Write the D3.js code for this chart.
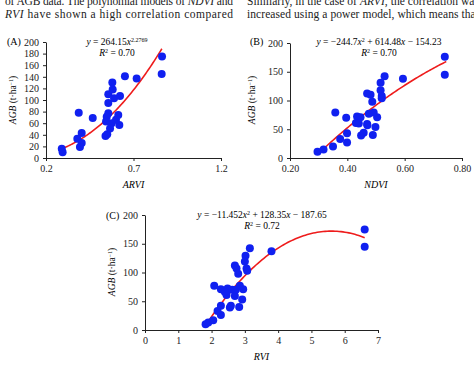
<!DOCTYPE html>
<html>
<head>
<meta charset="utf-8">
<script src="https://cdn.jsdelivr.net/npm/d3@7"></script>
<style>
  body { margin: 0; background: #fff; }
  text { font-family: "Liberation Serif", "DejaVu Serif", serif; }
</style>
</head>
<body>
<div id="chart"></div>
<script>
// values
var arviX = [0.29, 0.295, 0.387, 0.404, 0.379, 0.404, 0.394, 0.467, 0.54, 0.55, 0.556, 0.547, 0.543, 0.575,
             0.566, 0.613, 0.619, 0.60, 0.556, 0.556, 0.581, 0.579, 0.589, 0.623, 0.651, 0.718, 0.861, 0.863];
var arviY = [16, 10, 78, 43, 33, 26, 19, 69, 38, 41, 77, 71, 63, 60,
             51, 74, 57, 66, 95, 110, 118, 130, 103, 107, 141, 137, 145, 175];

var ndviX = [0.296, 0.317, 0.35, 0.358, 0.375, 0.396, 0.399, 0.399, 0.434, 0.43, 0.446, 0.44, 0.448, 0.457, 0.469, 0.47,
             0.469, 0.481, 0.487, 0.489, 0.498, 0.504, 0.492, 0.475, 0.516, 0.516, 0.52, 0.52, 0.53, 0.594, 0.74, 0.74];
var ndviY = [11, 15, 20, 79, 33, 70, 43, 27, 72, 61, 71, 60, 39, 44, 59, 57,
             112, 110, 98, 40, 54, 71, 79, 77, 118, 131, 108, 104, 142, 138, 176, 145];

var rviX = [1.82, 1.9, 2.05, 2.08, 2.28, 2.18, 2.28, 2.28, 2.48, 2.45, 2.4, 2.58, 2.55, 2.62, 2.7, 2.73,
            2.83, 2.92, 2.95, 2.85, 2.7, 2.75, 2.8, 3.0, 3.02, 3.05, 3.07, 3.15, 3.8, 6.6, 6.6];
var rviY = [10, 13, 17, 77, 26, 33, 42, 71, 72, 61, 66, 42, 39, 70, 59, 70,
            40, 53, 71, 77, 112, 107, 98, 119, 129, 107, 103, 142, 137, 175, 145];

// fitted trend lines as printed on the chart
var arviFit = [264.15, 2.2769];              // a * x^b
var ndviFit = [-244.7, 614.48, -154.23];     // a x^2 + b x + c
var rviFit = [-11.452, 128.35, -187.65];

var arviTicks = [0.2, 0.7, 1.2];
var ndviTicks = [0.2, 0.4, 0.6, 0.8];
var rviTicks = [0, 1, 2, 3, 4, 5, 6, 7];

var W = 474, H = 365;
var blue = "#1020f0", red = "#ee1c1c";

var svg = d3.select("#chart").append("svg")
  .attr("width", W).attr("height", H);

// body text around the figure
function bodyLine(x, y, len, parts) {
  var t = svg.append("text").attr("x", x).attr("y", y)
    .style("font-size", "11.5px").attr("fill", "#222");
  if (len) t.attr("textLength", len).attr("lengthAdjust", "spacing");
  parts.forEach(function(p) {
    t.append("tspan").text(p[0]).style("font-style", p[1] ? "italic" : "normal");
  });
}
bodyLine(5, 5, 228, [["of ", 0], ["AGB", 0], [" data. The polynomial models of ", 0], ["NDVI", 1], [" and", 0]]);
bodyLine(5, 18, 228, [["RVI", 1], [" have shown a high correlation compared", 0]]);
bodyLine(247, 5, 232, [["Similarly, in the case of ", 0], ["ARVI", 1], [", the correlation was", 0]]);
bodyLine(247, 18, 232, [["increased using a power model, which means that", 0]]);

function panel(cfg) {
  var g = svg.append("g");
  var x = d3.scaleLinear().domain(cfg.xDomain).range(cfg.xRange);
  var y = d3.scaleLinear().domain([0, 200]).range(cfg.yRange);

  var xa = g.append("g")
    .attr("transform", "translate(0," + cfg.yRange[0] + ")")
    .call(d3.axisBottom(x).tickValues(cfg.xTicks).tickFormat(d3.format(cfg.xFmt))
      .tickSize(3).tickPadding(4).tickSizeOuter(0));
  var ya = g.append("g")
    .attr("transform", "translate(" + cfg.xRange[0] + ",0)")
    .call(d3.axisLeft(y).tickValues(d3.range(0, 201, cfg.yStep))
      .tickSize(3).tickPadding(4).tickSizeOuter(0));
  [xa, ya].forEach(function(a) {
    a.selectAll("text").style("font-size", "10px").style("font-family", "Liberation Serif").attr("fill", "#222");
    a.selectAll("line, path").attr("stroke", "#222");
  });

  // trend line
  var xs = d3.range(cfg.fitFrom, cfg.fitTo + 1e-9, (cfg.fitTo - cfg.fitFrom) / 80);
  g.append("path")
    .datum(xs)
    .attr("fill", "none").attr("stroke", red).attr("stroke-width", 1.6)
    .attr("d", d3.line().x(function(d) { return x(d); }).y(function(d) { return y(cfg.fit(d)); }));

  // points
  g.selectAll("circle.pt")
    .data(cfg.xs)
    .enter().append("circle")
      .attr("class", "pt")
      .attr("cx", function(d) { return x(d); })
      .attr("cy", function(d, i) { return y(cfg.ys[i]); })
      .attr("r", 4)
      .attr("fill", blue);

  // panel letter
  g.append("text").attr("x", cfg.label[0]).attr("y", cfg.label[1])
    .style("font-size", "10px").text(cfg.name);

  // equation and R2
  var cx = cfg.eqPos[0];
  var eq = g.append("text").attr("x", cx).attr("y", cfg.eqPos[1])
    .attr("text-anchor", "middle").style("font-size", "9.5px");
  cfg.eq.forEach(function(p) {
    var s = eq.append("tspan").text(p[0]);
    if (p[1] == 1) s.style("font-style", "italic");
    if (p[1] == 2) s.attr("baseline-shift", "super").style("font-size", "6px");
  });
  var r2 = g.append("text").attr("x", cx).attr("y", cfg.eqPos[1] + 11)
    .attr("text-anchor", "middle").style("font-size", "9.5px");
  r2.append("tspan").text("R").style("font-style", "italic");
  r2.append("tspan").text("2").attr("baseline-shift", "super").style("font-size", "6px");
  r2.append("tspan").text(" = " + cfg.r2);

  // axis titles
  g.append("text")
    .attr("x", (cfg.xRange[0] + cfg.xRange[1]) / 2).attr("y", cfg.yRange[0] + 30)
    .attr("text-anchor", "middle").style("font-size", "10px").style("font-style", "italic")
    .text(cfg.xTitle);
  var yt = g.append("text")
    .attr("transform", "translate(" + cfg.yTitle[0] + "," + cfg.yTitle[1] + ")rotate(-90)")
    .attr("text-anchor", "middle").style("font-size", "9.5px");
  yt.append("tspan").text("AGB").style("font-style", "italic");
  yt.append("tspan").text(" (t\u00b7ha");
  yt.append("tspan").text("\u22121").attr("baseline-shift", "super").style("font-size", "6px");
  yt.append("tspan").text(")");
}

panel({
  name: "(A)", label: [7, 45],
  xs: arviX, ys: arviY,
  xDomain: [0.2, 1.2], xRange: [46, 221], yRange: [158, 42],
  xTicks: arviTicks, xFmt: ".1f", yStep: 20,
  fit: function(v) { return arviFit[0] * Math.pow(v, arviFit[1]); },
  fitFrom: 0.285, fitTo: 0.862,
  eq: [["y", 1], [" = 264.15", 0], ["x", 1], ["2.2769", 2]], eqPos: [117, 45], r2: "0.70",
  xTitle: "ARVI", yTitle: [16, 100]
});

panel({
  name: "(B)", label: [250, 45],
  xs: ndviX, ys: ndviY,
  xDomain: [0.2, 0.8], xRange: [290, 462], yRange: [158, 43],
  xTicks: ndviTicks, xFmt: ".2f", yStep: 50,
  fit: function(v) { return ndviFit[0] * v * v + ndviFit[1] * v + ndviFit[2]; },
  fitFrom: 0.3, fitTo: 0.745,
  eq: [["y", 1], [" = \u2212244.7", 0], ["x", 1], ["2", 2], [" + 614.48", 0], ["x", 1], [" \u2212 154.23", 0]],
  eqPos: [379, 45], r2: "0.70",
  xTitle: "NDVI", yTitle: [255, 100]
});

panel({
  name: "(C)", label: [106, 219],
  xs: rviX, ys: rviY,
  xDomain: [0, 7], xRange: [145, 378], yRange: [330, 215],
  xTicks: rviTicks, xFmt: "d", yStep: 50,
  fit: function(v) { return rviFit[0] * v * v + rviFit[1] * v + rviFit[2]; },
  fitFrom: 1.85, fitTo: 6.6,
  eq: [["y", 1], [" = \u221211.452", 0], ["x", 1], ["2", 2], [" + 128.35", 0], ["x", 1], [" \u2212 187.65", 0]],
  eqPos: [262, 218], r2: "0.72",
  xTitle: "RVI", yTitle: [115, 272]
});
</script>
</body>
</html>
